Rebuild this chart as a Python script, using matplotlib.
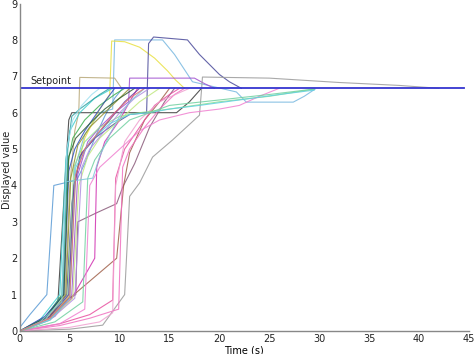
import matplotlib
matplotlib.use('Agg')
import matplotlib.pyplot as plt

# Datos: tiempo (s) y valor mostrado de cada ensayo
setpoint = 6.67
setpoint_end = 44.5

r01_t = [0, 1, 2.7, 3.4, 5.7, 6.5, 7.5, 8.5, 9.5, 10.3]
r01_v = [0.1, 0.45, 1.0, 4.0, 4.15, 4.6, 5.3, 5.9, 6.4, 6.67]
r02_t = [0, 2, 3.8, 4.6, 4.9, 5.2, 15.7, 17, 18.2]
r02_v = [0, 0.2, 0.75, 4.5, 5.8, 6.0, 6.0, 6.3, 6.67]
r03_t = [0, 3, 4.9, 5.5, 6.5, 8, 9.3, 9.5, 14.3, 15.5, 17.3, 21.7, 22.7, 27.4, 28.5, 29.6]
r03_v = [0, 0.4, 1.0, 4.5, 5.4, 6.0, 6.1, 8.0, 8.0, 7.6, 6.85, 6.57, 6.29, 6.29, 6.45, 6.65]
r04_t = [0, 3.5, 5.0, 5.5, 6.5, 8, 9.0, 9.2, 10.5, 12, 13.5, 14.8, 15.6, 16.5]
r04_v = [0, 0.45, 1.0, 4.2, 5.3, 6.1, 6.5, 7.97, 7.95, 7.8, 7.5, 7.15, 6.9, 6.67]
r05_t = [0, 3, 4.7, 5.2, 6, 7.5, 9.5, 11, 12.7, 12.9, 13.4, 16.8, 18, 20, 21, 22.2]
r05_v = [0, 0.4, 1.0, 3.5, 4.8, 5.3, 5.7, 5.95, 6.0, 7.9, 8.08, 8.0, 7.6, 7.05, 6.85, 6.67]
r06_t = [0, 3, 4.5, 5.0, 5.5, 5.9, 6.0, 9.5, 10.2]
r06_v = [0, 0.45, 1.0, 4.0, 5.5, 6.0, 6.97, 6.95, 6.67]
r07_t = [0, 3.5, 5.2, 5.8, 6.8, 8, 9.5, 10.9, 11.0, 17.5, 18.5, 19.5]
r07_v = [0, 0.4, 1.0, 4.3, 5.2, 5.6, 6.0, 6.3, 6.95, 6.95, 6.8, 6.67]
r08_t = [0, 5, 8.3, 10.5, 11.0, 12.0, 13.3, 15.3, 18.0, 18.2, 18.3, 25, 32, 38, 42]
r08_v = [0, 0.05, 0.16, 1.0, 3.7, 4.07, 4.78, 5.25, 5.93, 6.6, 6.98, 6.95, 6.83, 6.75, 6.67]
r09_t = [0, 3, 5.0, 5.6, 5.8, 7.7, 9.7, 10.3, 11.5, 13, 14.5, 15.5]
r09_v = [0, 0.4, 0.9, 1.0, 3.0, 3.25, 3.5, 3.95, 4.6, 5.6, 6.3, 6.67]
r10_t = [0, 3, 5.2, 9.7, 10.4, 11, 12.5, 14, 15]
r10_v = [0, 0.45, 0.95, 2.0, 4.0, 4.9, 5.8, 6.3, 6.67]
r11_t = [0, 3, 5.2, 7.5, 7.7, 8.5, 10, 11, 11.8]
r11_v = [0, 0.35, 0.9, 2.0, 4.5, 5.2, 5.8, 6.3, 6.67]
r12_t = [0, 4, 7, 9.9, 10.3, 11, 12.5, 14, 15.5, 16.5]
r12_v = [0, 0.15, 0.35, 0.6, 4.5, 5.0, 5.6, 6.1, 6.5, 6.67]
r13_t = [0, 4, 7, 9.3, 9.6, 10.5, 12, 13.5, 15, 16]
r13_v = [0, 0.2, 0.45, 0.85, 4.2, 5.0, 5.6, 6.2, 6.5, 6.67]
r14_t = [0, 5, 8, 9.3, 9.6, 10.5, 12, 14, 16, 17]
r14_v = [0, 0.1, 0.25, 0.5, 4.0, 5.2, 5.8, 6.3, 6.55, 6.67]
r15_t = [0, 2.5, 4.2, 4.8, 5.3, 6.5, 8, 9.5, 10.5]
r15_v = [0, 0.35, 1.0, 4.6, 5.3, 5.8, 6.2, 6.5, 6.67]
r16_t = [0, 3, 4.8, 5.4, 6.5, 8, 10, 12, 15, 20, 25, 29.5]
r16_v = [0, 0.35, 0.95, 4.5, 5.2, 5.6, 5.9, 6.0, 6.1, 6.3, 6.45, 6.65]
r17_t = [0, 2, 4.0, 4.6, 5.0, 6.0, 7.5, 8.5, 9.3]
r17_v = [0, 0.3, 1.0, 4.7, 5.5, 6.0, 6.4, 6.55, 6.67]
r18_t = [0, 2.5, 4.3, 4.8, 5.2, 6, 7, 8, 9]
r18_v = [0, 0.35, 1.0, 5.0, 5.9, 6.1, 6.3, 6.5, 6.67]
r19_t = [0, 2.5, 4.4, 4.9, 5.5, 6.5, 7.5, 8.5, 9.5]
r19_v = [0, 0.4, 1.0, 4.4, 5.0, 5.5, 5.9, 6.3, 6.67]
r20_t = [0, 3, 4.6, 5.1, 5.8, 7, 8.5, 10, 11]
r20_v = [0, 0.4, 1.0, 4.2, 5.1, 5.6, 6.0, 6.4, 6.67]
r21_t = [0, 3, 4.9, 5.4, 6.2, 7.5, 9, 10.5, 12]
r21_v = [0, 0.4, 1.0, 4.0, 4.9, 5.3, 5.8, 6.3, 6.67]
r22_t = [0, 2.5, 4.2, 4.7, 5.3, 6.2, 7.2, 8]
r22_v = [0, 0.3, 0.9, 5.0, 5.8, 6.2, 6.5, 6.67]
r23_t = [0, 3, 5.3, 5.9, 6.8, 8, 10, 12, 14]
r23_v = [0, 0.3, 0.9, 4.0, 4.8, 5.3, 5.8, 6.3, 6.67]
r24_t = [0, 2.5, 4.4, 4.9, 5.6, 7, 8.5, 10, 11.5]
r24_v = [0, 0.35, 1.0, 4.8, 5.3, 5.7, 6.1, 6.4, 6.67]
r25_t = [0, 3, 5.5, 6.2, 7, 8.5, 10, 11.5, 13]
r25_v = [0, 0.3, 0.9, 4.5, 5.0, 5.5, 6.0, 6.4, 6.67]
r26_t = [0, 4, 6.5, 7.0, 8, 10, 12, 14, 17, 20, 22, 24, 26]
r26_v = [0, 0.2, 0.6, 4.0, 4.5, 5.0, 5.5, 5.8, 6.0, 6.1, 6.2, 6.45, 6.67]
r27_t = [0, 3, 5, 5.6, 7, 9, 11, 13, 15, 18, 22, 26, 29.5]
r27_v = [0, 0.3, 0.9, 4.5, 5.2, 5.7, 5.95, 6.0, 6.1, 6.2, 6.35, 6.5, 6.62]
r28_t = [0, 3.5, 6.3, 6.8, 7.5, 9, 11, 13, 15, 20, 25, 29.5]
r28_v = [0, 0.25, 0.8, 4.2, 4.7, 5.3, 5.8, 6.0, 6.2, 6.35, 6.5, 6.65]
r29_t = [0, 2, 4.2, 4.6, 7.3, 8, 9, 10, 11, 12.5]
r29_v = [0, 0.25, 0.8, 4.1, 4.2, 4.8, 5.4, 5.9, 6.3, 6.67]
r30_t = [0, 3, 5.0, 5.6, 6.5, 8, 9.5, 11, 12.5]
r30_v = [0, 0.35, 0.95, 4.3, 5.0, 5.5, 6.0, 6.4, 6.67]

ensayos = [
    (r01_t, r01_v, '#5b9bd5'), (r02_t, r02_v, '#3a3a3a'), (r03_t, r03_v, '#78b8e0'),
    (r04_t, r04_v, '#e8e040'), (r05_t, r05_v, '#4a4a9a'), (r06_t, r06_v, '#b8a878'),
    (r07_t, r07_v, '#a050d0'), (r08_t, r08_v, '#9a9a9a'), (r09_t, r09_v, '#8a5a7a'),
    (r10_t, r10_v, '#a0604a'), (r11_t, r11_v, '#d030b0'), (r12_t, r12_v, '#f070c0'),
    (r13_t, r13_v, '#e850a0'), (r14_t, r14_v, '#f0a0d0'), (r15_t, r15_v, '#40b050'),
    (r16_t, r16_v, '#90e090'), (r17_t, r17_v, '#40d0d0'), (r18_t, r18_v, '#30a0a0'),
    (r19_t, r19_v, '#3050c0'), (r20_t, r20_v, '#909030'), (r21_t, r21_v, '#7040a0'),
    (r22_t, r22_v, '#a0e0f0'), (r23_t, r23_v, '#c0e880'), (r24_t, r24_v, '#306030'),
    (r25_t, r25_v, '#b090e0'), (r26_t, r26_v, '#f080d0'), (r27_t, r27_v, '#60d0e0'),
    (r28_t, r28_v, '#70d0a0'), (r29_t, r29_v, '#80c8d8'), (r30_t, r30_v, '#e07070'),
]

fig = plt.figure(figsize=(4.74, 3.54), dpi=100)
ax = fig.add_axes([0.042, 0.065, 0.947, 0.925])

for t, v, c in ensayos:
    ax.plot(t, v, color=c, lw=0.8, alpha=0.85)

# Linea del setpoint
ax.plot([0, setpoint_end], [setpoint, setpoint], color='#3535d0', lw=1.3)
ax.text(1.0, setpoint + 0.12, 'Setpoint', fontsize=7, color='#222222')

ax.set_xlim(0, 45)
ax.set_ylim(0, 9)
ax.set_xticks(range(0, 46, 5))
ax.set_yticks(range(0, 10))
ax.tick_params(length=0, labelsize=7, colors='#222222', pad=2)
for s in ['top', 'right']:
    ax.spines[s].set_visible(False)
for s in ['left', 'bottom']:
    ax.spines[s].set_color('#888888')
    ax.spines[s].set_linewidth(1.0)

ax.set_xlabel('Time (s)', fontsize=7, labelpad=1)
# etiqueta del eje y puesta a mano para que no se corte
fig.text(0.004, 0.52, 'Displayed value', fontsize=7, rotation=90,
         va='center', ha='left', color='#222222')

fig.savefig('out.png', dpi=100)
